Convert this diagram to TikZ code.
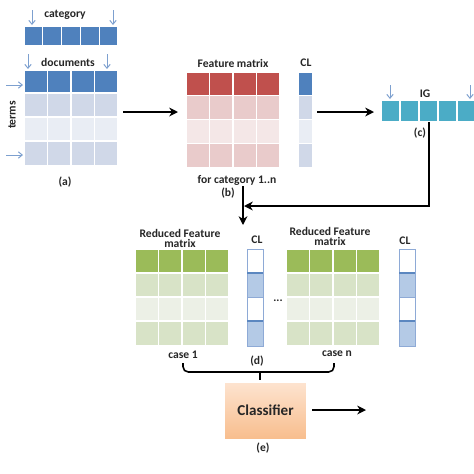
\documentclass[tikz,border=0pt]{standalone}
\usepackage{fontspec}
\setmainfont{Carlito}
\usetikzlibrary{arrows.meta}
\definecolor{blueD}{HTML}{4F81BD}
\definecolor{blueA}{HTML}{D0D8E8}
\definecolor{blueB}{HTML}{E9EDF4}
\definecolor{redD}{HTML}{C0504D}
\definecolor{redA}{HTML}{E9CBCB}
\definecolor{redB}{HTML}{F4E7E7}
\definecolor{greenD}{HTML}{9BBB59}
\definecolor{greenA}{HTML}{D8E3C7}
\definecolor{greenB}{HTML}{ECF0E6}
\definecolor{aqua}{HTML}{4BACC6}
\definecolor{clfill}{HTML}{B4CAE6}
\definecolor{cledge}{HTML}{8EAAD6}
\definecolor{clline}{HTML}{5B87C0}
\definecolor{smallblue}{HTML}{7DA0CF}
\definecolor{peachT}{HTML}{FDE3CF}
\definecolor{peachB}{HTML}{F8BE8E}
\definecolor{txt}{HTML}{262626}
\tikzset{
  cell/.style={draw=white, line width=0.7pt},
  lbl/.style={font=\fontsize{6.6}{7.2}\selectfont\bfseries, text=txt, inner sep=0pt, align=center},
  arr/.style={line width=1.1pt, -{Stealth[length=5pt,width=5pt]}},
  line/.style={line width=1.1pt},
  smallarr/.style={draw=smallblue, line width=0.55pt, -{Straight Barb[length=2.2pt,width=3.6pt]}},
  classbox/.style={top color=peachT, bottom color=peachB, draw=none, inner sep=0pt,
     font=\fontsize{8.6}{9}\selectfont\bfseries, text=txt}
}
\begin{document}
\begin{tikzpicture}[x=0.02cm, y=-0.02cm]
\useasboundingbox (0,0) rectangle (474,474);
% ---------- (a) category bar ----------
\foreach \i in {0,...,4} \fill[cell, fill=blueD] ({24+\i*18.8},26) rectangle ++(18.8,20);
\node[lbl] (cat) at (65,15) {category};
\coordinate (ca1s) at (32,10); \coordinate (ca1e) at (32,25);
\coordinate (ca2s) at (113,10); \coordinate (ca2e) at (113,25);
\draw[smallarr] (ca1s) -- (ca1e);
\draw[smallarr] (ca2s) -- (ca2e);
% ---------- (a) documents matrix ----------
\node[lbl] (doc) at (68,62) {documents};
\coordinate (da1s) at (28,54); \coordinate (da1e) at (28,69);
\coordinate (da2s) at (107,54); \coordinate (da2e) at (107,69);
\draw[smallarr] (da1s) -- (da1e);
\draw[smallarr] (da2s) -- (da2e);
\foreach \i in {0,...,3} {
  \fill[cell, fill=blueD] ({24+\i*23.5},70) rectangle ++(23.5,23);
  \fill[cell, fill=blueA] ({24+\i*23.5},93) rectangle ++(23.5,24);
  \fill[cell, fill=blueB] ({24+\i*23.5},117) rectangle ++(23.5,24);
  \fill[cell, fill=blueA] ({24+\i*23.5},141) rectangle ++(23.5,25);
}
\coordinate (ta1s) at (6,85); \coordinate (ta1e) at (23,85);
\coordinate (ta2s) at (6,155); \coordinate (ta2e) at (23,155);
\draw[smallarr] (ta1s) -- (ta1e);
\draw[smallarr] (ta2s) -- (ta2e);
\node[lbl, rotate=90] (terms) at (12,115) {terms};
\node[lbl] (la) at (65,182) {(a)};
% ---------- (b) feature matrix ----------
\node[lbl] (fm) at (233,63) {Feature matrix};
\node[lbl] (clb) at (306,63) {CL};
\foreach \i in {0,...,3} {
  \fill[cell, fill=redD] ({186+\i*23.5},72) rectangle ++(23.5,23.5);
  \fill[cell, fill=redA] ({186+\i*23.5},95.5) rectangle ++(23.5,24);
  \fill[cell, fill=redB] ({186+\i*23.5},119.5) rectangle ++(23.5,24);
  \fill[cell, fill=redA] ({186+\i*23.5},143.5) rectangle ++(23.5,24.5);
}
\fill[cell, fill=blueD] (298,72) rectangle (313,95.5);
\fill[cell, fill=blueA] (298,95.5) rectangle (313,119.5);
\fill[cell, fill=blueB] (298,119.5) rectangle (313,143.5);
\fill[cell, fill=blueA] (298,143.5) rectangle (313,168);
\node[lbl] (fc) at (237,180) {for category 1..n};
\node[lbl] (lb) at (228,193) {(b)};
% ---------- (c) IG ----------
\foreach \i in {0,...,4} \fill[cell, fill=aqua] ({381+\i*19},100) rectangle ++(19,22);
\node[lbl] (ig) at (425,94) {IG};
\coordinate (ig1s) at (390,85); \coordinate (ig1e) at (390,99);
\coordinate (ig2s) at (470,85); \coordinate (ig2e) at (470,99);
\draw[smallarr] (ig1s) -- (ig1e);
\draw[smallarr] (ig2s) -- (ig2e);
\node[lbl] (lc) at (420,133) {(c)};
% ---------- (d) reduced matrices ----------
\node[lbl] (rf1) at (180,238) {Reduced Feature\\[-1.5pt]matrix};
\node[lbl] (rf2) at (330,236) {Reduced Feature\\[-1.5pt]matrix};
\node[lbl] (cld1) at (257,240) {CL};
\node[lbl] (cld2) at (405,241) {CL};
\foreach \x in {135,286} {
  \foreach \i in {0,...,3} {
    \fill[cell, fill=greenD] ({\x+\i*23.5},249) rectangle ++(23.5,24);
    \fill[cell, fill=greenA] ({\x+\i*23.5},273) rectangle ++(23.5,24);
    \fill[cell, fill=greenB] ({\x+\i*23.5},297) rectangle ++(23.5,24);
    \fill[cell, fill=greenA] ({\x+\i*23.5},321) rectangle ++(23.5,25);
  }
}
\foreach \x in {247,399} {
  \fill[fill=white, draw=cledge, line width=0.4pt] (\x,249) rectangle ++(16,24);
  \fill[fill=clfill, draw=cledge, line width=0.4pt] (\x,273) rectangle ++(16,24);
  \fill[fill=white, draw=cledge, line width=0.4pt] (\x,297) rectangle ++(16,24);
  \fill[fill=clfill, draw=cledge, line width=0.4pt] (\x,321) rectangle ++(16,25);
  \draw[clline, line width=0.8pt] (\x,273) -- ++(16,0);
  \draw[clline, line width=0.8pt] (\x,321) -- ++(16,0);
}
\node[lbl] (dots) at (278,301) {...};
\node[lbl] (case1) at (183,355) {case 1};
\node[lbl] (casen) at (337,354) {case n};
\node[lbl] (ld) at (257,361) {(d)};
% ---------- (e) classifier ----------
\node[classbox, minimum width=1.62cm, minimum height=1.1cm] (cls) at (265.5,410.5) {Classifier};
\node[lbl] (le) at (263,448) {(e)};
% ---------- connectors ----------
\coordinate (a1) at (123,112); \coordinate (b1) at (178,112);
\draw[arr] (a1) -- (b1);
\coordinate (b2) at (317,112); \coordinate (c1) at (374,112);
\draw[arr] (b2) -- (c1);
\coordinate (c2) at (429,122); \coordinate (jn) at (244,206);
\draw[arr] (c2) |- (jn);
\coordinate (b3) at (243,186); \coordinate (d1) at (243,225);
\draw[arr] (b3) -- (d1);
\coordinate (br1) at (183,363); \coordinate (brm) at (260,372); \coordinate (br2) at (334,363);
\draw[line, line width=0.9pt, rounded corners=3pt] (br1) |- (brm) -| (br2);
\coordinate (brt) at (260,380);
\draw[line, line width=0.9pt] (brm) -- (brt);
\coordinate (e0) at (312,410); \coordinate (e1) at (366,410);
\draw[arr] (e0) -- (e1);
\end{tikzpicture}
\end{document}
